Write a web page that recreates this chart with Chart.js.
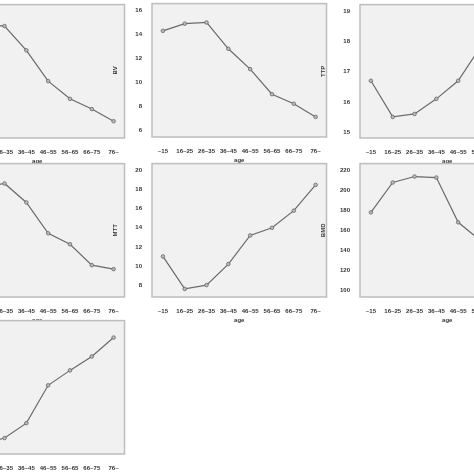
<!DOCTYPE html>
<html><head><meta charset="utf-8">
<script src="https://cdn.jsdelivr.net/npm/chart.js"></script>
<style>
html,body{margin:0;padding:0;background:#fff;width:474px;height:474px;overflow:hidden;position:relative}
.p{position:absolute;width:220px;height:170px}
</style></head><body>
<script>
const categories = ["~15","16~25","26~35","36~45","46~55","56~65","66~75","76~"];
const bf  = [115,122,120,94,61,42,31,18];
const bv  = [14.3,14.9,15.0,12.8,11.1,9.0,8.2,7.1];
const ttp = [16.7,15.5,15.6,16.1,16.7,17.8,18.2,18.7];
const cbf = [100,110,114,95,64,53,32,28];
const mtt = [11.0,7.6,8.0,10.2,13.2,14.0,15.8,18.5];
const bmd = [178,208,214,213,168,150,145,140];
const bt  = [5,10,16,31,69,84,98,117];
const bvTicks=[6,8,10,12,14,16], ttpTicks=[15,16,17,18,19], mttTicks=[8,10,12,14,16,18,20], bmdTicks=[100,120,140,160,180,200,220];

const boxPlugin={id:'box',beforeDraw(c){const a=c.chartArea,x=c.ctx;x.save();x.fillStyle='#f1f1f1';x.fillRect(a.left,a.top,a.right-a.left,a.bottom-a.top);x.strokeStyle='#bdbdbd';x.lineWidth=1.5;x.strokeRect(a.left,a.top,a.right-a.left,a.bottom-a.top);x.restore();}};
function panel(left,top,data,title,min,max,ticks){
  const d=document.createElement('div');d.className='p';d.style.left=left+'px';d.style.top=top+'px';
  const cv=document.createElement('canvas');d.appendChild(cv);document.body.appendChild(d);
  const f={family:'Liberation Sans',size:6,weight:'bold'};
  new Chart(cv,{type:'line',data:{labels:categories,datasets:[{data:data,borderColor:'#6a6a6a',borderWidth:1.2,pointRadius:1.8,pointBackgroundColor:'#bbb',pointBorderColor:'#666',pointBorderWidth:0.8,tension:0}]},
  options:{responsive:true,maintainAspectRatio:false,animation:false,layout:{padding:0},plugins:{legend:{display:false},tooltip:{enabled:false}},
  scales:{x:{offset:true,grid:{display:false,drawTicks:false},border:{display:false},ticks:{color:'#333',font:f,padding:11,maxRotation:0,autoSkip:false},title:{display:true,text:'age',color:'#333',font:f,padding:{top:5}},afterFit(s){s.height=31;}},
  y:{min:min,max:max,grid:{display:false},border:{display:false},ticks:{color:'#333',font:f,padding:2},afterBuildTicks(s){s.ticks=ticks.map(v=>({value:v}));},title:{display:!!title,text:title,color:'#333',font:f,padding:0},afterFit(s){s.width=40;}}}},
  plugins:[boxPlugin]});
}
panel(-90,-1,bf,'',0,143,[0,20,40,60,80,100,120,140]);
panel(112,-2,bv,'BV',5.42,16.58,bvTicks);
panel(320,-1,ttp,'TTP',14.8,19.23,ttpTicks);
panel(-90,158,cbf,'',0,134,[0,20,40,60,80,100,120]);
panel(112,158,mtt,'MTT',6.75,20.73,mttTicks);
panel(320,158,bmd,'BMD',93,227,bmdTicks);
panel(-90,315,bt,'',0,134,[0,20,40,60,80,100,120]);
</script></body></html>
